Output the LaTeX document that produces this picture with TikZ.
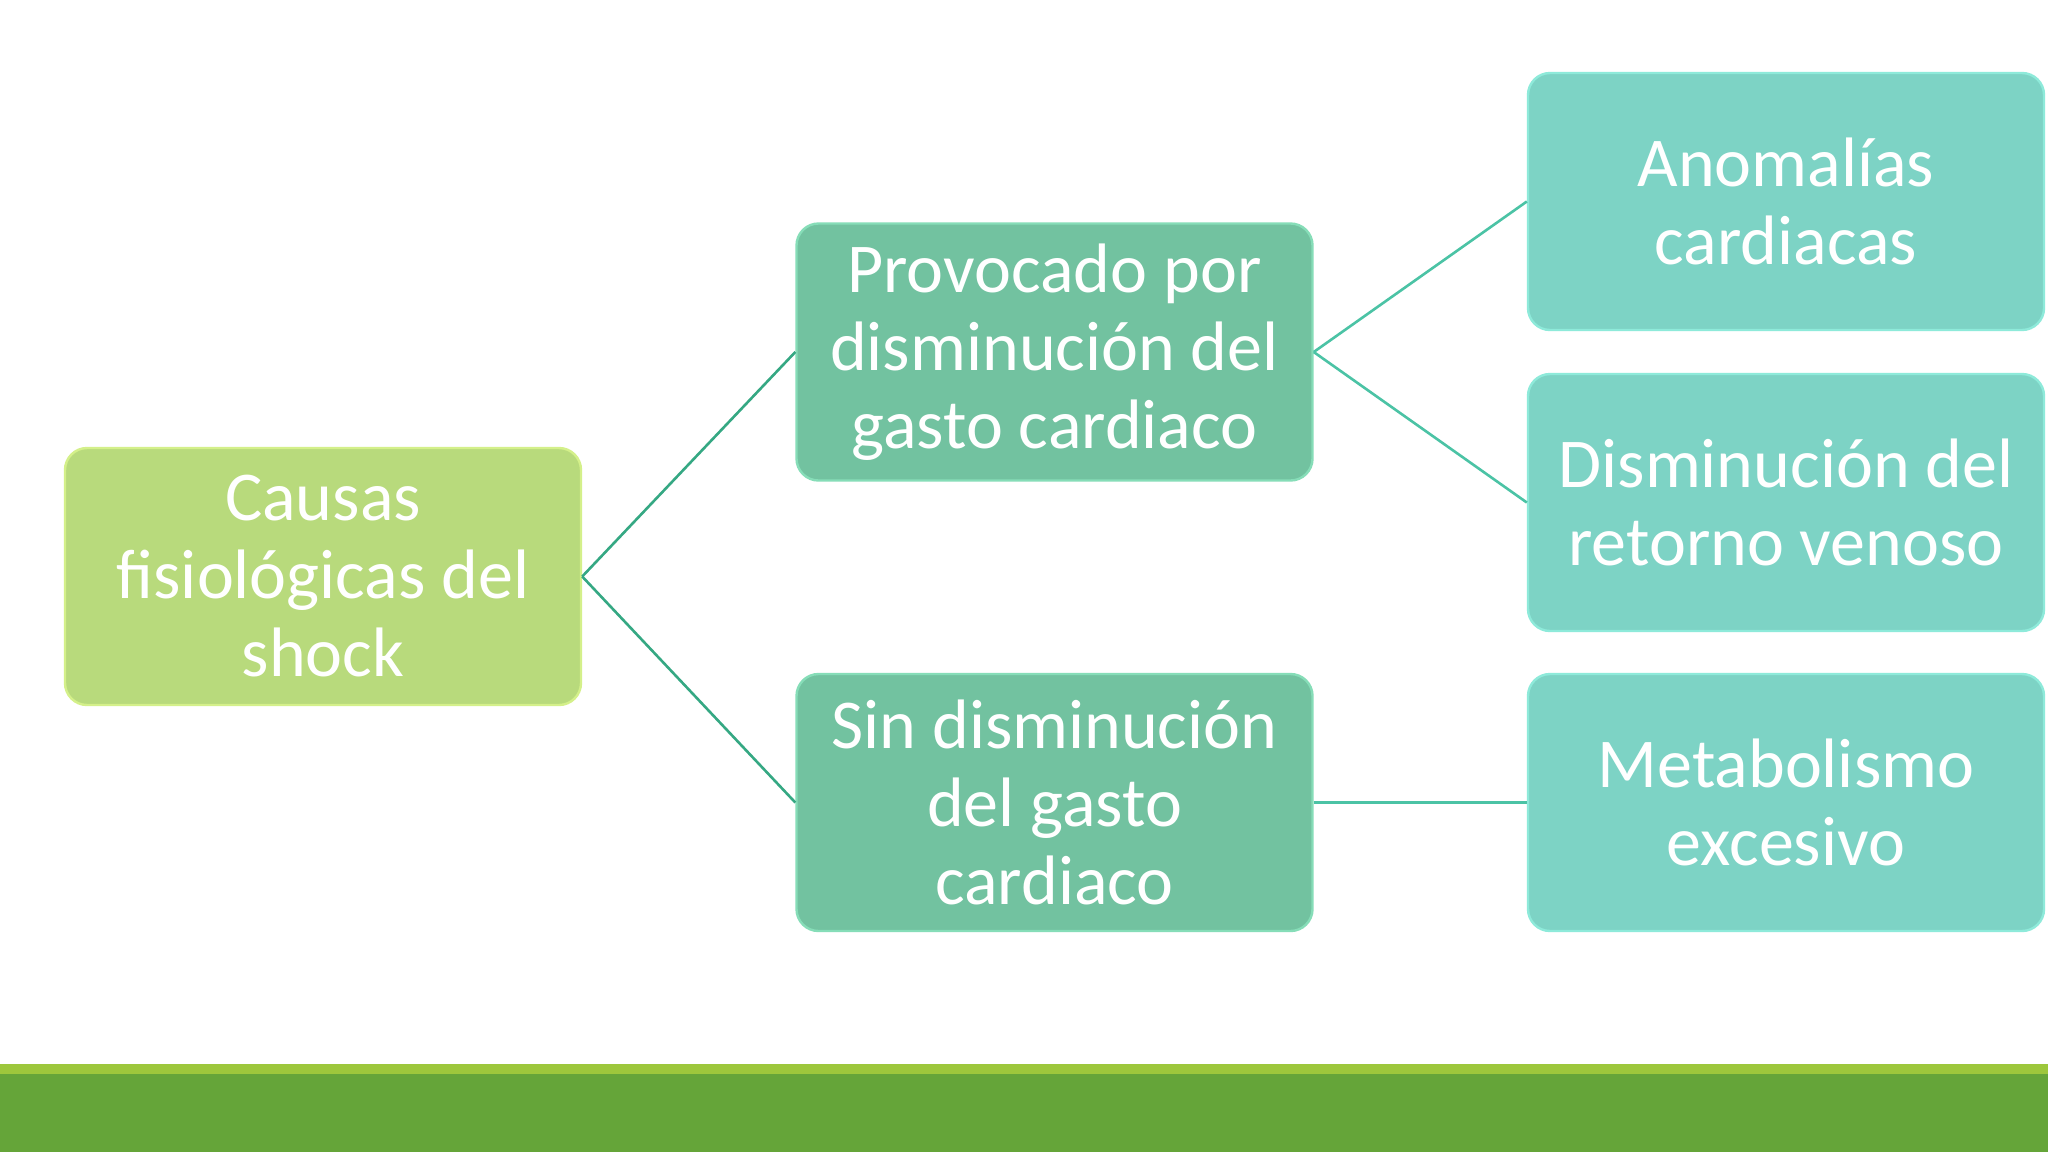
\documentclass[tikz,border=0pt]{standalone}
\usepackage{fontspec}
\setmainfont{Carlito}
\definecolor{rootfill}{HTML}{B8DA7C}
\definecolor{rootedge}{HTML}{D4F08A}
\definecolor{midfill}{HTML}{72C2A0}
\definecolor{midedge}{HTML}{86DDB8}
\definecolor{rightfill}{HTML}{7DD3C5}
\definecolor{rightedge}{HTML}{8EEADA}
\definecolor{linkA}{HTML}{35A883}
\definecolor{linkB}{HTML}{4BC3A5}
\definecolor{bandlight}{HTML}{9DC73C}
\definecolor{banddark}{HTML}{65A539}
\tikzset{
  box/.style={rounded corners=11pt, minimum width=258pt, minimum height=128.5pt,
    text=white, align=center, inner sep=0pt, line width=1.2pt,
    font=\fontsize{35}{39}\selectfont},
  rootbox/.style={box, fill=rootfill, draw=rootedge},
  midbox/.style={box, fill=midfill, draw=midedge},
  rightbox/.style={box, fill=rightfill, draw=rightedge},
  linka/.style={draw=linkA, line width=1.3pt},
  linkb/.style={draw=linkB, line width=1.3pt}
}
\begin{document}
\begin{tikzpicture}[x=0.5pt,y=-0.5pt]
\useasboundingbox (0,0) rectangle (2048,1152);
\fill[white] (0,0) rectangle (2048,1152);
\fill[bandlight] (0,1064) rectangle (2048,1074);
\fill[banddark] (0,1074) rectangle (2048,1152);
\node[rootbox] (root) at (323,576.5) {Causas\\fisiológicas del\\shock};
\node[midbox] (m1) at (1054.5,352) {Provocado por\\disminución del\\gasto cardiaco};
\node[midbox] (m2) at (1054.5,802.5) {Sin disminución\\del gasto\\cardiaco};
\node[rightbox] (r1) at (1786,201.5) {Anomalías\\cardiacas};
\node[rightbox] (r2) at (1786,502.5) {Disminución del\\retorno venoso};
\node[rightbox] (r3) at (1786,802.5) {Metabolismo\\excesivo};
\draw[linka] (root.east) -- (m1.west);
\draw[linka] (root.east) -- (m2.west);
\draw[linkb] (m1.east) -- (r1.west);
\draw[linkb] (m1.east) -- (r2.west);
\draw[linkb] (m2.east) -- (r3.west);
\end{tikzpicture}
\end{document}
